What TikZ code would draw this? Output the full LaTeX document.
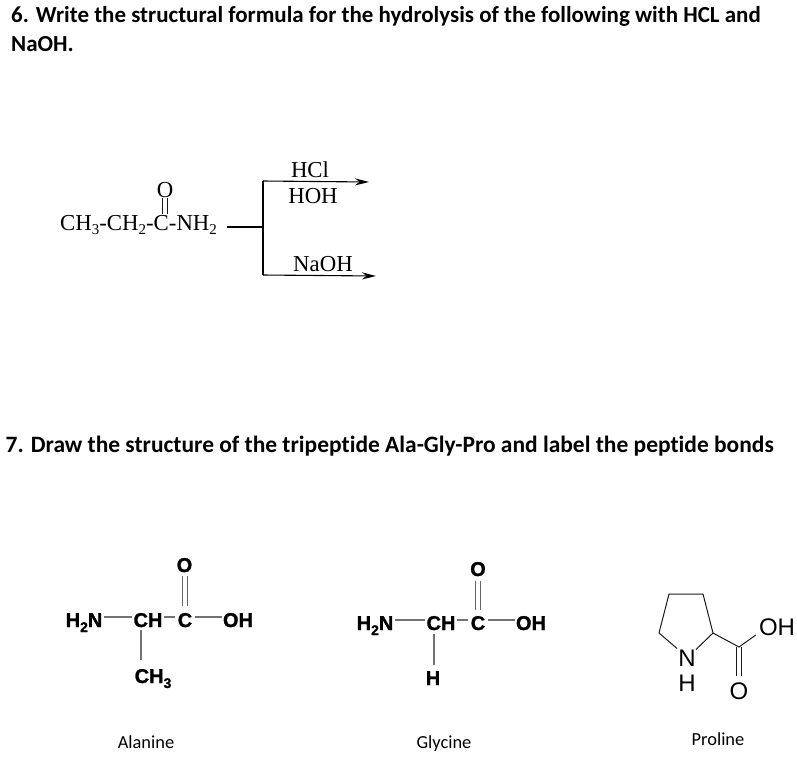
\documentclass[tikz,border=0pt]{standalone}
\usepackage{fontspec}
\setmainfont{Liberation Serif}
\newfontfamily\headfont[Ligatures=NoCommon]{Carlito}
\newfontfamily\boldsans[BoldFeatures={FakeBold=1.2}]{Liberation Sans}
\newfontfamily\plainsans{Liberation Sans}
\newcommand{\subs}[1]{\raisebox{-0.2em}{\fontsize{15}{15}\selectfont #1}}
\newcommand{\subb}[1]{\raisebox{-0.25em}{\fontsize{14}{14}\selectfont #1}}
\usetikzlibrary{arrows.meta}
\tikzset{
  head/.style={anchor=base west,inner sep=0pt,font=\headfont\bfseries\selectfont},
  caption/.style={inner sep=0pt,anchor=base,font=\headfont\fontsize{18.4}{20}\selectfont},
  serif/.style={inner sep=0pt,font=\fontsize{22.8}{24}\selectfont},
  atom/.style={inner sep=0pt,text height=20pt,text depth=0pt,font=\boldsans\bfseries\fontsize{20}{22}\selectfont},
  ringatom/.style={inner sep=0pt,font=\plainsans\fontsize{24}{26}\selectfont},
  bond/.style={draw=black!55,line width=1.3pt},
  dbond/.style={draw=black!60,line width=1.2pt},
  line/.style={draw=black,line width=1.1pt},
  thin line/.style={draw=black!90,line width=1pt},
  rarrow/.style={draw=black,line width=1.1pt,-{Stealth[length=14pt,width=7pt]}},
}
\begin{document}
\begin{tikzpicture}[x=1pt,y=-1pt]
\useasboundingbox (0,0) rectangle (797,756);
% headings
\node[head] (h1) at (11,22) {\fontsize{22.96}{26}\selectfont 6. Write the structural formula for the hydrolysis of the following with HCL and};
\node[head] (h2) at (11,51) {\fontsize{22.96}{26}\selectfont NaOH.};
\node[head] (h3) at (5.5,452) {\fontsize{23.45}{26}\selectfont 7. Draw the structure of the tripeptide Ala-Gly-Pro and label the peptide bonds};
% amide
\node[serif,anchor=base west] (amide) at (60,230) {CH\subs{3}-CH\subs{2}-C-NH\subs{2}};
\node[serif] (amO) at (165,190) {O};
\coordinate (amC) at (165,214);
\draw[thin line] ([xshift=-2.5pt]amO.south) -- ([xshift=-2.5pt]amC);
\draw[thin line] ([xshift=2.5pt]amO.south) -- ([xshift=2.5pt]amC);
\coordinate (stem) at (227,227);
\coordinate (junction) at (263,227);
\coordinate (topc) at (263,181);
\coordinate (botc) at (263,275);
\coordinate (topend) at (369,182);
\coordinate (botend) at (376,276);
\draw[line] (stem) -- (junction);
\draw[line] (topc) -- (botc);
\draw[rarrow] (topc) -- (topend);
\draw[rarrow] (botc) -- (botend);
\node[serif] (hcl) at (310,170) {HCl};
\node[serif] (hoh) at (313,196) {HOH};
\node[serif] (naoh) at (323,264) {NaOH};
% alanine
\node[atom] (aN) at (84,617) {H\subb{2}N};
\node[atom] (aCH) at (148,617) {CH};
\node[atom] (aC) at (185,617) {C};
\node[atom] (aOH) at (238,617) {OH};
\node[atom] (aO) at (184.5,562) {O};
\node[atom] (aMe) at (153,673) {CH\subb{3}};
\draw[bond] ([xshift=1pt]aN.east) -- ([xshift=-1pt]aCH.west);
\draw[bond] ([xshift=1pt]aCH.east) -- ([xshift=-3pt]aC.west);
\draw[bond] ([xshift=3pt]aC.east) -- ([xshift=-1pt]aOH.west);
\draw[dbond] ([xshift=-2pt,yshift=-4pt]aO.south) -- ([xshift=-2.5pt,yshift=1pt]aC.north);
\draw[dbond] ([xshift=3pt,yshift=-4pt]aO.south) -- ([xshift=2.5pt,yshift=1pt]aC.north);
\draw[bond] ([xshift=-7pt,yshift=-3pt]aCH.south) -- ([xshift=-12pt,yshift=3pt]aMe.north);
% glycine
\node[atom] (gN) at (375,620) {H\subb{2}N};
\node[atom] (gCH) at (441,620) {CH};
\node[atom] (gC) at (478,620) {C};
\node[atom] (gOH) at (531,620) {OH};
\node[atom] (gO) at (478,566) {O};
\node[atom] (gH) at (433,675) {H};
\draw[bond] ([xshift=1pt]gN.east) -- ([xshift=-1pt]gCH.west);
\draw[bond] ([xshift=1pt]gCH.east) -- ([xshift=-3pt]gC.west);
\draw[bond] ([xshift=3pt]gC.east) -- ([xshift=-1pt]gOH.west);
\draw[dbond] ([xshift=-2.5pt,yshift=-5pt]gO.south) -- ([xshift=-2.5pt]gC.north);
\draw[dbond] ([xshift=2.5pt,yshift=-5pt]gO.south) -- ([xshift=2.5pt]gC.north);
\draw[bond] ([xshift=-7pt,yshift=-4pt]gCH.south) -- ([xshift=1pt]gH.north);
% proline
\node[ringatom] (pN) at (687,658) {N};
\node[ringatom] (pH) at (687,683) {H};
\node[ringatom] (pOH) at (777,627) {OH};
\node[ringatom] (pO) at (739,691) {O};
\coordinate (r1) at (659,633);
\coordinate (r2) at (669,594);
\coordinate (r3) at (703,594);
\coordinate (r4) at (713,633);
\coordinate (cc) at (739,647);
\draw[thin line,line join=round] ([shift={(-1pt,1pt)}]pN.north west) -- (r1) -- (r2) -- (r3) -- (r4) -- (pN.north east);
\draw[thin line] (r4) -- (cc) -- ([shift={(-3pt,-8pt)}]pOH.west);
\draw[thin line] ([xshift=-2.5pt]cc) -- ([xshift=-2.5pt,yshift=6pt]pO.north);
\draw[thin line] ([xshift=2.5pt]cc) -- ([xshift=2.5pt,yshift=6pt]pO.north);
% captions
\node[caption] (c1) at (146,748) {Alanine};
\node[caption] (c2) at (444,748) {Glycine};
\node[caption] (c3) at (718,745) {Proline};
\end{tikzpicture}
\end{document}
